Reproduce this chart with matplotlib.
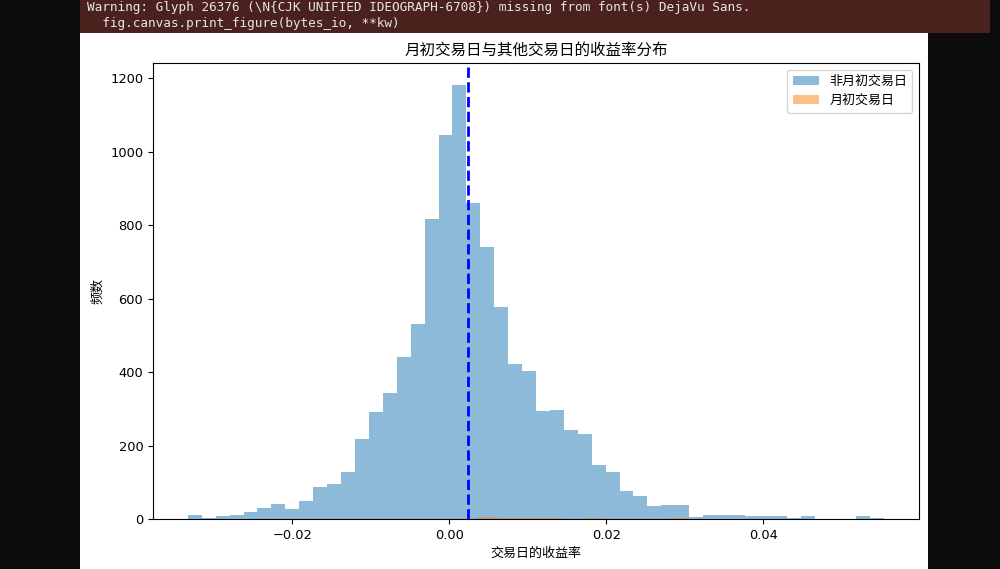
import numpy as np
import matplotlib.pyplot as plt
from matplotlib.patches import Rectangle

plt.rcParams['font.family'] = ['DejaVu Sans', 'Noto Sans CJK SC']
plt.rcParams['font.size'] = 9.4

# blue histogram: 50 bins between these bounds
all_lo, all_hi = -0.03332, 0.0554
all_counts = [12, 2, 7, 12, 18, 31, 42, 26, 48, 86,
              94, 127, 218, 291, 343, 441, 532, 818, 1047, 1183,
              862, 741, 577, 422, 404, 295, 297, 243, 232, 148,
              129, 75, 63, 36, 38, 38, 5, 11, 11, 11,
              9, 7, 7, 2, 7, 0, 0, 0, 7, 4]

# orange histogram
sub_lo, sub_hi = 0.0035, 0.0305
sub_counts = [5, 3, 3, 2, 0, 3, 0, 0, 1, 3]

mean_value = 0.00238

title = "月初交易日与其他交易日的收益率分布"
label_all = "非月初交易日"
label_sub = "月初交易日"
xlabel = "交易日的收益率"
ylabel = "频数"

warn_lines = ["Warning: Glyph 26376 (\\N{CJK UNIFIED IDEOGRAPH-6708}) missing from font(s) DejaVu Sans.",
              "  fig.canvas.print_figure(bytes_io, **kw)"]

fig = plt.figure(figsize=(10, 5.69), dpi=100, facecolor='#0c0c0c')

# notebook frame around the figure
fig.patches.append(Rectangle((0.080, 0), 0.848, 1 - 33 / 569, transform=fig.transFigure,
                             facecolor='white', edgecolor='none', zorder=-2))
fig.patches.append(Rectangle((0.080, 1 - 33 / 569), 0.910, 33 / 569, transform=fig.transFigure,
                             facecolor='#4a211c', edgecolor='none', zorder=-2))
fig.text(0.087, 1 - 8 / 569, warn_lines[0], family='DejaVu Sans Mono', fontsize=9.2,
         color='#e6e6e6', va='center', ha='left')
fig.text(0.087, 1 - 24 / 569, warn_lines[1], family='DejaVu Sans Mono', fontsize=9.2,
         color='#e6e6e6', va='center', ha='left')

ax = fig.add_axes([0.153, 1 - 519 / 569, 0.766, (519 - 63) / 569])

edges_all = np.linspace(all_lo, all_hi, len(all_counts) + 1)
edges_sub = np.linspace(sub_lo, sub_hi, len(sub_counts) + 1)

ax.hist(edges_all[:-1], bins=edges_all, weights=all_counts, alpha=0.5, label=label_all)
ax.hist(edges_sub[:-1], bins=edges_sub, weights=sub_counts, alpha=0.5, label=label_sub)
ax.axvline(mean_value, color='b', linestyle='--', linewidth=2)

ax.set_title(title, fontsize=11.2)
ax.set_xlabel(xlabel)
ax.set_ylabel(ylabel)
ax.set_xticks([-0.02, 0.0, 0.02, 0.04])
ax.legend(loc='upper right')

fig.savefig('out.png', dpi=100, facecolor=fig.get_facecolor())
